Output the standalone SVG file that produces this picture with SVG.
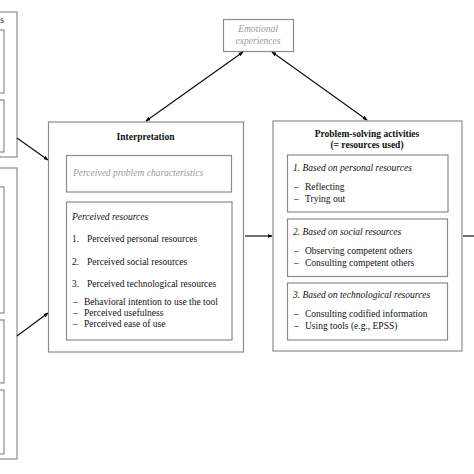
<svg xmlns="http://www.w3.org/2000/svg" width="474" height="474" viewBox="0 0 474 474">
<defs>
<marker id="ah" viewBox="0 0 10 10" refX="9" refY="5" markerWidth="5" markerHeight="5" orient="auto-start-reverse" markerUnits="userSpaceOnUse">
<path d="M0,1 L10,5 L0,9 z" fill="#000"/>
</marker>
<style>
.box{fill:#fff;stroke:#8c8c8c;stroke-width:1.2}
.t{font-family:"Liberation Serif","Times New Roman",serif;font-size:9.5px;fill:#111}
.i{font-style:italic}
.g{fill:#999}
.b{font-weight:bold;font-size:9.5px}
.c{stroke:#111;stroke-width:1.2;fill:none}
</style>
</defs>
<rect width="474" height="474" fill="#fff"/>

<g id="left-group-1">
<rect class="box" x="-5" y="12" width="22" height="145"/>
<rect class="box" x="-5" y="30" width="9" height="63"/>
<rect class="box" x="-5" y="100" width="9" height="52"/>
<text class="t" x="4" y="23" text-anchor="end">s</text>
</g>
<g id="left-group-2">
<rect class="box" x="-5" y="168" width="22" height="291"/>
<rect class="box" x="-5" y="187" width="9" height="126"/>
<rect class="box" x="-5" y="320" width="9" height="63"/>
<rect class="box" x="-5" y="390" width="9" height="64"/>
</g>

<g id="emotional">
<rect class="box" x="223.5" y="19.5" width="70" height="32"/>
<text class="t i g" x="258" y="32" text-anchor="middle">Emotional</text>
<text class="t i g" x="258" y="44" text-anchor="middle">experiences</text>
</g>

<g id="interpretation">
<rect class="box" x="48.5" y="122" width="195" height="230"/>
<text class="t b" x="145.5" y="140" text-anchor="middle">Interpretation</text>
<g id="perceived-problem">
<rect class="box" x="66.5" y="155.5" width="165" height="36.5"/>
<text class="t i g" x="73" y="176">Perceived problem characteristics</text>
</g>
<g id="perceived-resources">
<rect class="box" x="66.5" y="202" width="165.5" height="138"/>
<text class="t i" x="72" y="220">Perceived resources</text>
<text class="t" x="72" y="242">1.</text>
<text class="t" x="87" y="242">Perceived personal resources</text>
<text class="t" x="72" y="265">2.</text>
<text class="t" x="87" y="265">Perceived social resources</text>
<text class="t" x="72" y="287">3.</text>
<text class="t" x="87" y="287">Perceived technological  resources</text>
<text class="t" x="73" y="305">–</text>
<text class="t" x="84" y="305">Behavioral intention  to use the tool</text>
<text class="t" x="73" y="316">–</text>
<text class="t" x="84" y="316">Perceived usefulness</text>
<text class="t" x="73" y="327">–</text>
<text class="t" x="84" y="327">Perceived ease of use</text>
</g>
</g>

<g id="problem-solving">
<rect class="box" x="273" y="121" width="189" height="230"/>
<text class="t b" x="367" y="137" text-anchor="middle">Problem-solving activities</text>
<text class="t b" x="367" y="148" text-anchor="middle">(= resources used)</text>
<g id="personal">
<rect class="box" x="287.5" y="155" width="160.5" height="57"/>
<text class="t i" x="293" y="171">1. Based on personal resources</text>
<text class="t" x="294" y="190">–</text>
<text class="t" x="305" y="190">Reflecting</text>
<text class="t" x="294" y="202">–</text>
<text class="t" x="305" y="202">Trying  out</text>
</g>
<g id="social">
<rect class="box" x="287.5" y="219" width="160" height="57.5"/>
<text class="t i" x="293" y="235">2. Based on social resources</text>
<text class="t" x="294" y="254">–</text>
<text class="t" x="305" y="254">Observing  competent others</text>
<text class="t" x="294" y="266">–</text>
<text class="t" x="305" y="266">Consulting  competent others</text>
</g>
<g id="technological">
<rect class="box" x="287.5" y="283" width="160" height="57"/>
<text class="t i" x="293" y="298">3. Based on technological resources</text>
<text class="t" x="294" y="317">–</text>
<text class="t" x="305" y="317">Consulting  codified information</text>
<text class="t" x="294" y="329">–</text>
<text class="t" x="305" y="329">Using tools  (e.g., EPSS)</text>
</g>
</g>

<g id="connectors">
<line class="c" x1="243" y1="52" x2="146" y2="121" marker-start="url(#ah)" marker-end="url(#ah)"/>
<line class="c" x1="272" y1="52" x2="367" y2="120" marker-start="url(#ah)" marker-end="url(#ah)"/>
<line class="c" x1="17" y1="138" x2="48" y2="160" marker-end="url(#ah)"/>
<line class="c" x1="17" y1="336" x2="48" y2="313" marker-end="url(#ah)"/>
<line class="c" x1="245" y1="236" x2="272" y2="236" marker-end="url(#ah)"/>
<line class="c" x1="463" y1="236" x2="474" y2="236"/>
</g>
</svg>
